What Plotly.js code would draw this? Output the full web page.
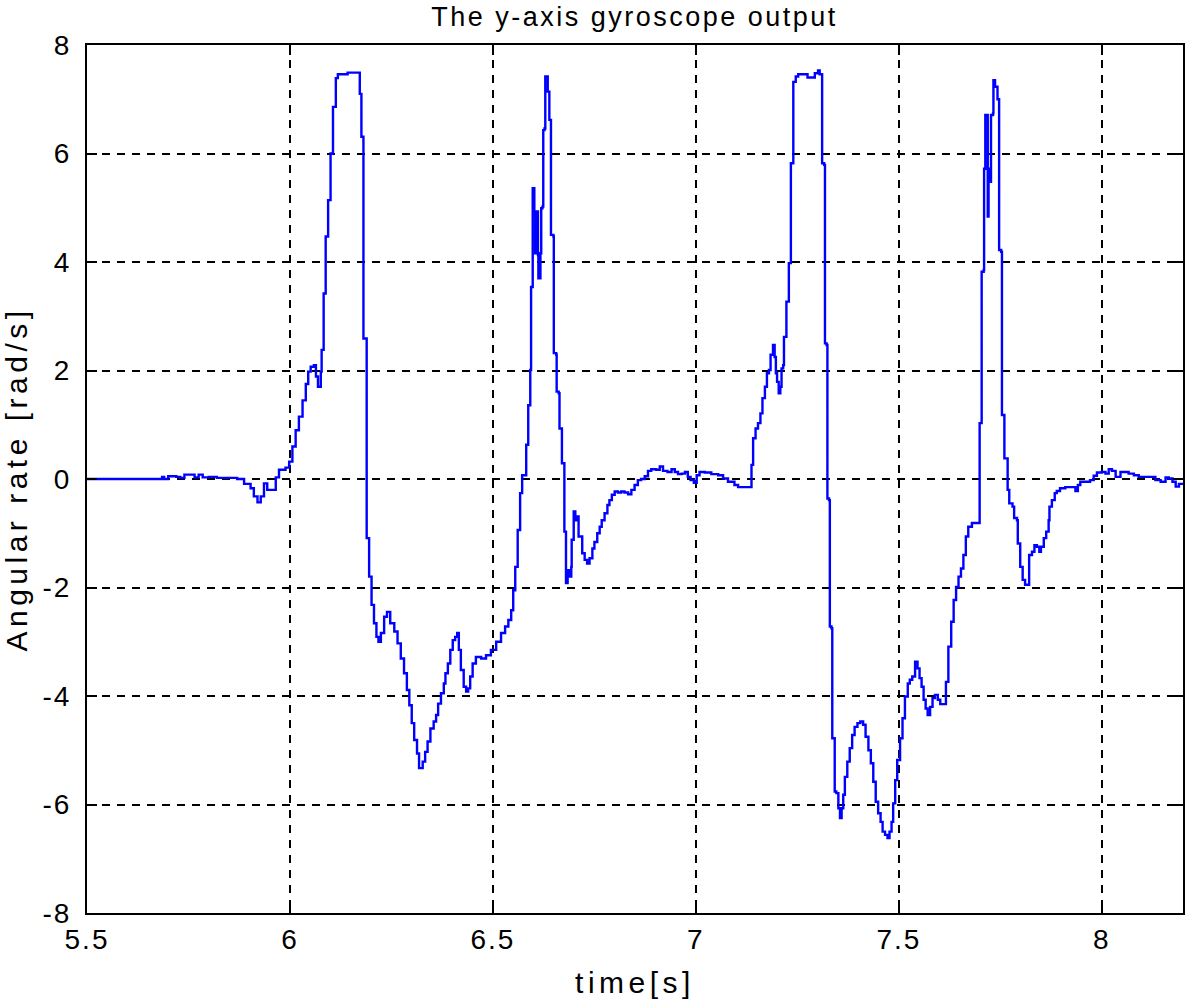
<!DOCTYPE html>
<html>
<head>
<meta charset="utf-8">
<script src="https://cdn.plot.ly/plotly-3.0.1.min.js"></script>
<style>
html,body{margin:0;padding:0;background:#fff;}
#chart{width:1186px;height:1000px;}
#chart .gtitle{letter-spacing:2.5px;}
#chart .xtitle,#chart .ytitle{letter-spacing:4.5px;}
#chart .xtick text,#chart .ytick text{letter-spacing:2px;}
</style>
</head>
<body>
<div id="chart"></div>
<script>
const chartTitle = "The y-axis gyroscope output";
const xLabel = "time[s]";
const yLabel = "Angular rate [rad/s]";
const xTicks = [5.5, 6, 6.5, 7, 7.5, 8];
const yTicks = [-8, -6, -4, -2, 0, 2, 4, 6, 8];

const timeS = [
5.5,5.68,5.685,5.69,5.70,5.72,5.73,5.74,5.755,5.765,5.775,5.785,5.80,5.82,5.85,5.865,5.870,5.887,5.903,5.911,5.920,5.928,5.936,5.944,5.957,5.965,5.973,5.989,5.998,
6.006,6.014,6.022,6.031,6.039,6.045,6.051,6.059,6.064,6.069,6.076,6.078,6.083,6.088,6.094,6.100,6.106,6.113,6.118,6.142,6.170,6.172,6.176,6.181,6.183,6.189,6.195,
6.201,6.207,6.213,6.218,6.224,6.232,6.239,6.247,6.257,6.265,6.273,6.281,6.288,6.294,6.300,6.306,6.313,6.318,6.327,6.333,6.339,6.346,6.354,6.360,6.365,6.372,6.379,
6.383,6.389,6.395,6.401,6.407,6.412,6.416,6.421,6.428,6.434,6.439,6.444,6.450,6.458,6.471,6.483,6.495,6.508,6.520,6.530,6.538,6.545,6.550,6.555,6.561,6.567,6.572,
6.582,6.587,6.592,6.594,6.598,6.602,6.604,6.607,6.611,6.612,6.617,6.619,6.622,6.624,6.627,6.629,6.633,6.635,6.639,6.642,6.643,6.649,6.650,6.656,6.657,6.662,6.664,
6.668,6.670,6.675,6.676,6.679,6.680,6.684,6.688,6.693,6.694,6.699,6.703,6.708,6.711,6.718,6.720,6.726,6.732,6.738,6.745,6.750,6.757,6.763,6.768,6.775,6.782,6.787,
6.793,6.800,6.808,6.816,6.824,6.833,6.841,6.849,6.857,6.865,6.874,6.882,6.890,6.902,6.911,6.919,6.930,6.940,6.948,6.956,6.965,6.973,6.980,6.987,6.995,
7.002,7.009,7.022,7.038,7.055,7.067,7.079,7.095,7.104,7.135,7.137,7.141,7.147,7.153,7.159,7.164,7.170,7.175,7.180,7.184,7.190,7.194,7.197,7.200,7.204,7.208,
7.211,7.215,7.217,7.223,7.229,7.234,7.237,7.240,7.246,7.252,7.267,7.275,7.285,7.293,7.301,7.305,7.311,7.316,7.318,7.322,7.324,7.328,7.330,7.334,7.336,7.340,
7.342,7.346,7.351,7.355,7.359,7.363,7.367,7.373,7.379,7.385,7.391,7.398,7.405,7.412,7.418,7.425,7.431,7.437,7.443,7.449,7.455,7.460,7.466,7.472,7.477,7.482,
7.486,7.491,7.496,7.503,7.509,7.515,7.522,7.527,7.533,7.540,7.546,7.551,7.556,7.561,7.566,7.571,7.577,7.583,7.589,7.596,7.602,7.614,7.616,7.622,7.629,7.635,
7.641,7.647,7.653,7.659,7.665,7.671,7.680,7.698,7.699,7.703,7.704,7.709,7.710,7.712,7.713,7.716,7.719,7.721,7.725,7.727,7.732,7.733,7.737,7.741,7.743,7.746,
7.747,7.752,7.754,7.758,7.760,7.765,7.768,7.772,7.780,7.784,7.791,7.793,7.797,7.799,7.805,7.811,7.818,7.821,7.828,7.834,7.840,7.846,7.850,7.857,7.863,7.869,
7.871,7.877,7.884,7.889,7.897,7.910,7.926,7.935,7.941,7.947,7.964,7.971,7.980,7.988,8.000,8.009,8.017,8.025,8.034,8.046,8.057,8.066,8.079,8.091,8.120,8.132,
8.145,8.157,8.165,8.174,8.182,8.190,8.2
];

const angularRate = [
0,0,0.04,0.0,0.05,0.04,0.02,0.08,0.08,0.03,0.08,0.03,0.04,0.02,0.02,0.02,0.0,-0.09,-0.17,-0.32,-0.43,-0.32,-0.08,-0.2,-0.2,0.03,0.17,0.21,0.32,
0.6,0.9,1.15,1.45,1.75,1.98,2.07,2.10,1.89,1.70,1.98,2.38,3.42,4.47,5.14,6.0,6.86,7.39,7.46,7.49,7.49,7.1,6.31,2.59,2.59,-1.09,-1.80,
-2.32,-2.66,-2.91,-3.0,-2.84,-2.54,-2.45,-2.66,-2.81,-3.03,-3.31,-3.58,-3.89,-4.17,-4.50,-4.81,-5.06,-5.33,-5.21,-5.03,-4.84,-4.60,-4.47,-4.35,-4.14,-3.95,-3.77,
-3.58,-3.40,-3.15,-2.97,-2.91,-2.84,-3.15,-3.52,-3.83,-3.92,-3.86,-3.64,-3.40,-3.28,-3.31,-3.25,-3.15,-3.0,-2.84,-2.72,-2.60,-2.42,-2.05,-1.62,-0.94,-0.26,0.07,
0.63,1.36,2.01,3.54,5.36,4.93,4.16,4.93,4.13,3.70,4.16,4.99,5.02,6.43,6.46,7.42,7.42,7.14,6.62,6.62,4.50,4.47,2.32,2.29,1.61,1.58,0.93,
0.93,0.29,0.29,-0.97,-0.97,-1.92,-1.68,-1.80,-1.62,-1.12,-0.60,-0.76,-0.69,-1.06,-1.06,-1.37,-1.49,-1.56,-1.46,-1.28,-1.16,-1.00,-0.88,-0.76,-0.63,-0.48,-0.39,
-0.29,-0.23,-0.25,-0.23,-0.25,-0.28,-0.20,-0.11,-0.02,0.0,0.05,0.15,0.18,0.17,0.23,0.15,0.13,0.18,0.13,0.09,0.10,0.13,0.04,-0.02,-0.07,
0.07,0.13,0.12,0.09,0.07,0.01,-0.05,-0.11,-0.15,-0.15,0.26,0.75,0.93,1.03,1.21,1.49,1.70,1.95,2.01,2.29,2.47,2.25,1.95,1.79,1.58,1.70,
2.04,2.10,2.62,3.27,3.98,5.82,5.82,7.32,7.42,7.46,7.46,7.40,7.40,7.48,7.53,7.46,5.82,5.79,2.50,2.47,-0.36,-0.39,-2.72,-2.75,-4.78,-4.78,
-5.76,-5.79,-6.07,-6.25,-6.07,-5.82,-5.49,-5.21,-4.96,-4.72,-4.57,-4.50,-4.47,-4.53,-4.75,-5.0,-5.24,-5.58,-5.95,-6.16,-6.32,-6.50,-6.56,-6.62,-6.50,-6.32,
-5.98,-5.55,-5.18,-4.78,-4.41,-4.01,-3.77,-3.70,-3.64,-3.37,-3.49,-3.67,-3.83,-4.07,-4.23,-4.35,-4.20,-4.04,-3.98,-4.07,-4.15,-4.15,-3.74,-3.09,-2.63,-2.23,
-1.99,-1.80,-1.65,-1.40,-1.06,-0.88,-0.81,-0.81,1.03,1.03,3.82,3.85,5.72,5.72,6.71,6.71,4.84,5.72,5.48,6.71,6.74,7.35,7.23,7.23,7.0,7.0,
4.22,4.19,1.18,1.18,0.38,0.38,-0.20,-0.45,-0.51,-0.72,-0.76,-1.19,-1.19,-1.62,-1.86,-1.95,-1.95,-1.40,-1.34,-1.22,-1.25,-1.34,-1.25,-1.09,-0.97,-0.76,
-0.51,-0.39,-0.26,-0.22,-0.17,-0.15,-0.15,-0.22,-0.11,-0.05,-0.05,-0.02,0.06,0.12,0.13,0.10,0.18,0.15,0.04,0.13,0.13,0.10,0.07,0.04,0.04,-0.02,
-0.05,0.03,0.01,-0.05,-0.14,-0.09,-0.09
];

const FONT = "Liberation Sans, Arial, sans-serif";

const trace = {
  x: timeS, y: angularRate, type: "scatter", mode: "lines",
  line: {color: "#0000ff", width: 2.4, shape: "hv"}, hoverinfo: "skip"
};

const axisCommon = {
  showline: true, linecolor: "#000", linewidth: 2, mirror: "ticks",
  ticks: "inside", ticklen: 10, tickwidth: 2, tickcolor: "#000",
  showgrid: true, gridcolor: "#000", gridwidth: 2, griddash: "8px,7px",
  zeroline: false, tickfont: {family: FONT, size: 28, color: "#000"}
};

const layout = {
  width: 1186, height: 1000,
  margin: {l: 87, r: 3, t: 45, b: 87},
  paper_bgcolor: "#fff", plot_bgcolor: "#fff",
  showlegend: false,
  title: {text: chartTitle, font: {family: FONT, size: 27, color: "#000"},
          x: 0.535, xanchor: "center", y: 0.983, yanchor: "middle", yref: "container"},
  xaxis: Object.assign({}, axisCommon, {
    range: [5.5, 8.2], tickvals: xTicks, ticktext: xTicks.map(String),
    ticklabelstandoff: 0,
    title: {text: xLabel, font: {family: FONT, size: 30, color: "#000"}, standoff: 18}
  }),
  yaxis: Object.assign({}, axisCommon, {
    range: [-8, 8], tickvals: yTicks, ticktext: yTicks.map(String),
    ticklabelstandoff: 8,
    title: {text: yLabel, font: {family: FONT, size: 30, color: "#000"}, standoff: 12}
  })
};

Plotly.newPlot("chart", [trace], layout, {staticPlot: true, displayModeBar: false});
</script>
</body>
</html>
